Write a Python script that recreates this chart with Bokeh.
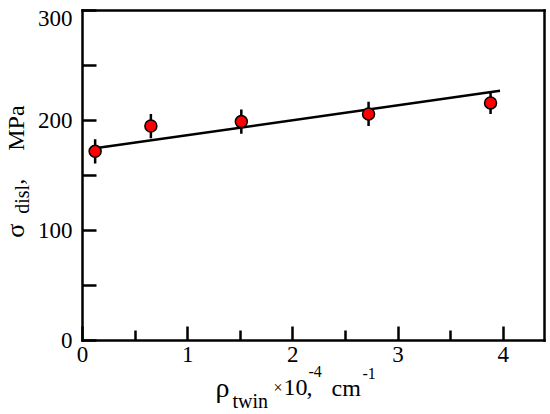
import math

from bokeh.plotting import figure
from bokeh.models import FixedTicker, Label, LinearAxis
from bokeh.embed import file_html
from bokeh.resources import INLINE

# data
rho_twin = [0.12, 0.65, 1.51, 2.72, 3.88]
sigma_disl = [172, 195, 199, 206, 216]
sigma_err = [11, 11, 11, 11, 10]

fit_x = [0.1, 3.97]
fit_y = [174.5, 227]

x_ticks = [0, 1, 2, 3, 4]
x_minor = [0.5, 1.5, 2.5, 3.5]
y_ticks = [0, 100, 200, 300]
y_minor = [50, 150, 250]

X_MAX = 4.39
Y_MAX = 300

FONT = "Liberation Serif"

# the frame fills the whole canvas; the axes sit at fixed data locations
p = figure(width=550, height=414, x_range=(-0.78, 4.45), y_range=(-67, 309),
           output_backend="svg", toolbar_location=None,
           min_border=0, min_border_left=0, min_border_right=0,
           min_border_top=0, min_border_bottom=0)
p.grid.visible = False
p.background_fill_color = "white"
p.border_fill_color = "white"
p.outline_line_color = None

p.xaxis.fixed_location = 0
p.yaxis.fixed_location = 0
p.xaxis.bounds = (0, X_MAX)
p.yaxis.bounds = (0, Y_MAX)

for ax in (p.xaxis[0], p.yaxis[0]):
    ax.axis_line_width = 2.5
    ax.axis_line_color = "black"
    ax.axis_line_cap = "square"
    ax.major_tick_line_width = 2.5
    ax.minor_tick_line_width = 2.5
    ax.major_tick_line_color = "black"
    ax.minor_tick_line_color = "black"
    ax.major_tick_out = 0
    ax.minor_tick_out = 0
    ax.major_tick_in = 14
    ax.major_label_text_font = FONT
    ax.major_label_text_font_size = "23px"
    ax.major_label_text_color = "black"

p.xaxis.ticker = FixedTicker(ticks=x_ticks, minor_ticks=x_minor)
p.yaxis.ticker = FixedTicker(ticks=y_ticks, minor_ticks=y_minor)
p.xaxis.minor_tick_in = 10
p.yaxis.minor_tick_in = 14
p.xaxis.major_label_standoff = 6
p.yaxis.major_label_standoff = 10
# the top label sits just below the corner, as in the original
p.yaxis.major_label_overrides = {y_ticks[-1]: ""}
p.add_layout(Label(x=0, y=y_ticks[-1], x_offset=-10, y_offset=-8,
                   text=str(y_ticks[-1]), text_font=FONT,
                   text_font_size="23px", text_color="black",
                   text_align="right", text_baseline="middle"))

# top and right sides of the box
for loc, side, bounds in ((Y_MAX, "above", (0, X_MAX)), (X_MAX, "right", (0, Y_MAX))):
    ax = LinearAxis(fixed_location=loc, bounds=bounds,
                    ticker=FixedTicker(ticks=[], minor_ticks=[]),
                    axis_line_width=2.5, axis_line_color="black",
                    axis_line_cap="square",
                    major_tick_line_color=None, minor_tick_line_color=None)
    p.add_layout(ax, side)

# fit line
p.line(fit_x, fit_y, line_color="black", line_width=2.5)

# error bars and points
lower = [v - e for v, e in zip(sigma_disl, sigma_err)]
upper = [v + e for v, e in zip(sigma_disl, sigma_err)]
p.segment(rho_twin, lower, rho_twin, upper, line_color="black", line_width=2.5)
p.scatter(rho_twin, sigma_disl, size=12, fill_color="#ff0000",
          line_color="black", line_width=1.5)


def lab(text, dx, dy, size, angle=0):
    # offsets in pixels from the data origin
    p.add_layout(Label(x=0, y=0, x_offset=dx, y_offset=dy, text=text,
                       text_font=FONT, text_font_size=size, angle=angle,
                       text_color="black", text_align="left",
                       text_baseline="alphabetic"))


# x axis label: rho_twin x10^-4, cm^-1
lab("ρ", 133, -47, "28px")
lab("twin", 150, -60, "20px")
lab("×", 191, -47, "16px")
lab("10", 201, -47, "24px")
lab(",", 224, -47, "24px")
lab("-4", 226, -31, "16px")
lab("cm", 249, -47, "24px")
lab("-1", 280, -33, "16px")

# y axis label: sigma_disl, MPa (rotated)
up = math.pi / 2
lab("σ", -67, 103, "26px", up)
lab("disl", -61, 127, "20px", up)
lab(",", -67, 156, "24px", up)
lab("MPa", -67, 190, "24px", up)

open("out.html", "w").write(file_html(p, INLINE))
